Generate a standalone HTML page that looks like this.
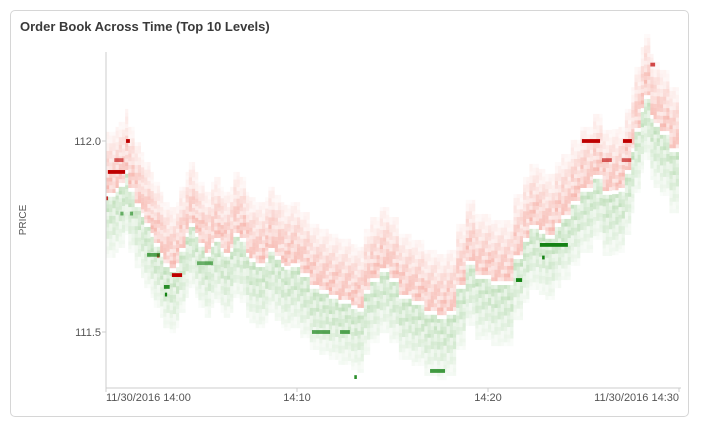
<!DOCTYPE html>
<html><head><meta charset="utf-8"><style>
body{margin:0;background:#fff;font-family:"Liberation Sans",sans-serif;}
#card{position:absolute;left:10px;top:10px;width:679px;height:407px;border:1px solid #d6d6d6;border-radius:5px;box-sizing:border-box;}
#title{position:absolute;left:20px;top:19px;font-size:13px;font-weight:bold;color:#3a3a3a;}
svg{position:absolute;left:0;top:0;}
text{font-family:"Liberation Sans",sans-serif;font-size:11px;fill:#555;}
</style></head><body>
<div id="card"></div>
<div id="title">Order Book Across Time (Top 10 Levels)</div>
<svg id="chart" width="702" height="430">
<g id="cells"></g>
<line x1="106" y1="52" x2="106" y2="388" stroke="#ccc"/>
<line x1="106" y1="388" x2="681" y2="388" stroke="#ccc"/>
<g id="yticks"></g>
<g id="xticks"></g>
<text x="26" y="220" transform="rotate(-90 26 220)" text-anchor="middle" style="font-size:10px">PRICE</text>
</svg>
<script>
// mid-price trace: seconds since 14:00, price
const midTimes=[6,28,44,60,75,91,107,123,138,154,170,185,201,217,232,248,264,280,295,311,327,342,358,374,390,405,421,437,452,468,484,500,515,531,547,562,578,609,641,672,704,735,766,788,814,829,861,892,923,964,996,1040,1071,1103,1134,1165,1206,1238,1278,1307,1332,1363,1385,1410,1426,1458,1489,1530,1561,1589,1614,1630,1646,1662,1677,1693,1709,1724,1740,1771,1803];
const midPrices=[111.859,111.872,111.885,111.919,111.872,111.832,111.806,111.780,111.754,111.728,111.702,111.675,111.662,111.675,111.715,111.754,111.780,111.754,111.728,111.702,111.728,111.741,111.715,111.702,111.715,111.754,111.741,111.702,111.688,111.675,111.675,111.688,111.715,111.694,111.675,111.668,111.675,111.649,111.618,111.605,111.592,111.579,111.565,111.558,111.605,111.636,111.662,111.636,111.592,111.576,111.550,111.539,111.550,111.618,111.681,111.644,111.628,111.628,111.696,111.741,111.775,111.762,111.749,111.780,111.801,111.838,111.872,111.906,111.864,111.866,111.872,111.919,111.976,112.029,112.081,112.115,112.063,112.042,112.021,111.976,111.950];
const askAlpha=[0.30,0.34,0.28,0.32,0.26,0.30,0.26,0.24,0.22,0.2,0.18,0.15,0.12,0.1,0.08,0.06];
const bidAlpha=[0.26,0.30,0.24,0.28,0.22,0.26,0.24,0.22,0.2,0.18,0.16,0.14,0.12,0.1,0.08,0.06];
// large orders: start s, end s, price, side, strength
const bigStart=[6,26,63,0,207,160,1495,1558,1620,1624,1710,129,45,75,182,185,286,647,735,780,1018,1288,1363,1370];
const bigEnd=[60,55,75,6,239,168,1552,1589,1650,1652,1725,170,55,85,200,192,336,704,766,788,1065,1307,1451,1378];
const bigPrice=[111.919,111.95,112.0,111.85,111.649,111.7,112.0,111.95,111.95,112.0,112.2,111.702,111.81,111.81,111.618,111.598,111.68,111.5,111.5,111.382,111.398,111.636,111.728,111.695];
const bigSide=["a","a","a","a","a","a","a","a","a","a","a","b","b","b","b","b","b","b","b","b","b","b","b","b"];
const bigStrength=[1,0.6,1,0.9,1,0.8,1,0.6,0.6,1,0.7,0.7,0.6,0.6,0.9,1,0.6,0.7,0.7,0.9,0.8,1,1,1];
const yTicks=[112.0,111.5];
const xTickSec=[0,600,1200,1800];
const xTickLabels=["11/30/2016 14:00","14:10","14:20","11/30/2016 14:30"];

const X=s=>106+s*(191/600);
const Y=p=>141+(112-p)*382;
const NS="http://www.w3.org/2000/svg";
const cells=document.getElementById('cells');
const cw=10*191/600, ch=0.01*382;
function rect(x,y,w,h,fill,op,name){
  const r=document.createElementNS(NS,'rect');
  r.setAttribute('x',x.toFixed(2));r.setAttribute('y',y.toFixed(2));
  r.setAttribute('width',w.toFixed(2));r.setAttribute('height',h.toFixed(2));
  r.setAttribute('fill',fill);r.setAttribute('fill-opacity',op);
  
  
  cells.appendChild(r);
}
const tex=[1,0.6,1.3,0.8,1.1,0.5,1.2];
for(let i=0;i<180;i++){
  const t=i*10+5;
  let k=0;for(let j=0;j<midTimes.length;j++){if(midTimes[j]<=t)k=j;}
  const m=midPrices[k];
  const x=X(i*10);
  for(let l=0;l<askAlpha.length;l++){
    const a=askAlpha[l]*tex[(i*3+l*2)%7];
    rect(x,Y(m+0.01*(l+1))-ch/2,cw,ch,'rgb(236,96,78)',a.toFixed(3),'ask-cell');
  }
  for(let l=0;l<bidAlpha.length;l++){
    const a=bidAlpha[l]*tex[(i*5+l*3)%7];
    rect(x,Y(m-0.01*(l+1))-ch/2,cw,ch,'rgb(96,176,84)',a.toFixed(3),'bid-cell');
  }
}
for(let i=0;i<bigStart.length;i++){
  const col=bigSide[i]==='a'?'rgb(190,0,0)':'rgb(20,130,20)';
  rect(X(bigStart[i]),Y(bigPrice[i])-ch/2,X(bigEnd[i])-X(bigStart[i]),ch,col,bigStrength[i],bigSide[i]==='a'?'large-ask-order':'large-bid-order');
}
const yt=document.getElementById('yticks');
yTicks.forEach(v=>{
  const l=document.createElementNS(NS,'line');
  l.setAttribute('x1',102);l.setAttribute('x2',106);l.setAttribute('y1',Y(v));l.setAttribute('y2',Y(v));l.setAttribute('stroke','#ccc');
  
  
  yt.appendChild(l);
  const tx=document.createElementNS(NS,'text');
  tx.setAttribute('x',101);tx.setAttribute('y',Y(v)+4);tx.setAttribute('text-anchor','end');
  tx.textContent=v.toFixed(1);
  
  
  yt.appendChild(tx);
});
const xt=document.getElementById('xticks');
xTickSec.forEach((s,i)=>{
  const l=document.createElementNS(NS,'line');
  l.setAttribute('x1',X(s));l.setAttribute('x2',X(s));l.setAttribute('y1',388);l.setAttribute('y2',392);l.setAttribute('stroke','#ccc');
  
  
  xt.appendChild(l);
  const tx=document.createElementNS(NS,'text');
  const anchor=i===0?'start':(i===xTickSec.length-1?'end':'middle');
  tx.setAttribute('x',i===xTickSec.length-1?Math.min(X(s),682):X(s));tx.setAttribute('y',401);tx.setAttribute('text-anchor',anchor);
  tx.textContent=xTickLabels[i];
  
  
  xt.appendChild(tx);
});
</script>
</body></html>
